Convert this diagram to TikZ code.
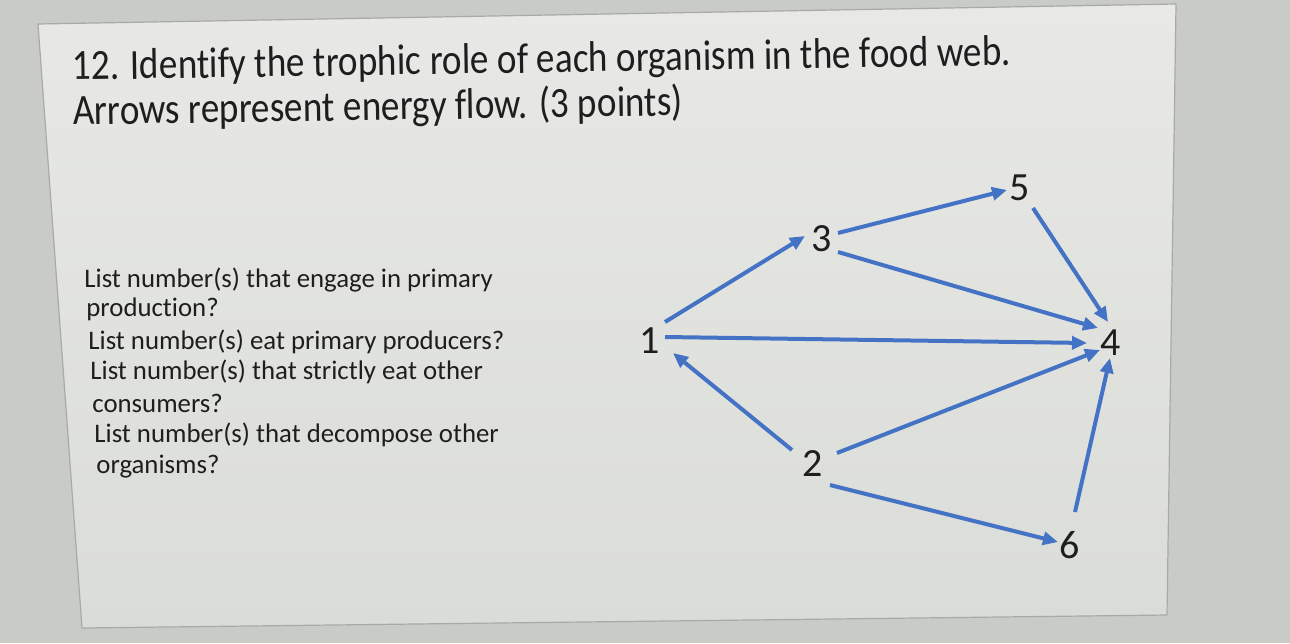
\documentclass[tikz,border=0pt]{standalone}
\usepackage{fontspec}
\setmainfont{Carlito}[Ligatures=NoCommon]
\usetikzlibrary{arrows.meta,calc}
\definecolor{bg}{HTML}{C9CBC7}
\definecolor{paneltop}{HTML}{E8E9E6}
\definecolor{panelbot}{HTML}{DADCD7}
\definecolor{edge}{HTML}{A8AAA8}
\definecolor{webblue}{HTML}{4472C4}
\definecolor{ink}{HTML}{1E1E1E}
\tikzset{
  num/.style={inner sep=0pt, font=\fontsize{20}{24}\selectfont, text=ink},
  qline/.style={anchor=base west, inner sep=0pt, text=ink, font=\fontsize{13.4}{16}\selectfont},
  tline/.style={anchor=base west, inner sep=0pt, text=ink, rotate=0.9, xscale=0.865, font=\fontsize{21.5}{24}\selectfont},
  flow/.style={draw=webblue, line width=2pt, -{Triangle[length=7.5pt,width=6.5pt]}},
}
\begin{document}
\begin{tikzpicture}[x=0.5pt,y=-0.5pt]
\useasboundingbox (0,0) rectangle (1290,643);
\fill[bg] (0,0) rectangle (1290,643);
\shade[top color=paneltop, bottom color=panelbot, draw=edge, line width=0.6pt]
  (38,24) -- (1176,4) -- (1167,615) -- (82,628) -- cycle;
% title
\node[tline] (t1) at (72,80)
  {12. Identify the trophic role of each organism in the food web.};
\node[tline] (t2) at (73,125)
  {Arrows represent energy flow. (3 points)};
% questions
\node[qline] (q1) at (84,287) {List number(s) that engage in primary};
\node[qline] (q2) at (86,316) {production?};
\node[qline] (q3) at (88,349) {List number(s) eat primary producers?};
\node[qline] (q4) at (90,379) {List number(s) that strictly eat other};
\node[qline] (q5) at (92,412) {consumers?};
\node[qline] (q6) at (94,442) {List number(s) that decompose other};
\node[qline] (q7) at (96,473) {organisms?};
% food web nodes
\node[num] (n1) at (650,341) {1};
\node[num] (n3) at (822,239) {3};
\node[num] (n5) at (1020,188) {5};
\node[num] (n4) at (1111,343) {4};
\node[num] (n2) at (813,464) {2};
\node[num] (n6) at (1070,545) {6};
% energy flow
\draw[flow] ($(n1)+(15,-19)$) -- ($(n3)+(-17,-3)$);
\draw[flow] ($(n3)+(16,-6)$) -- ($(n5)+(-13,2)$);
\draw[flow] ($(n3)+(16,13)$) -- ($(n4)+(-13,-15)$);
\draw[flow] ($(n5)+(13,20)$) -- ($(n4)+(-3,-21)$);
\draw[flow] ($(n1)+(15,-4)$) -- ($(n4)+(-24,0)$);
\draw[flow] ($(n2)+(-21,-14)$) -- ($(n1)+(23,12)$);
\draw[flow] ($(n2)+(24,-11)$) -- ($(n4)+(-11,7)$);
\draw[flow] ($(n2)+(17,21)$) -- ($(n6)+(-12,-3)$);
\draw[flow] ($(n6)+(5,-33)$) -- ($(n4)+(-1,15)$);
\end{tikzpicture}
\end{document}
